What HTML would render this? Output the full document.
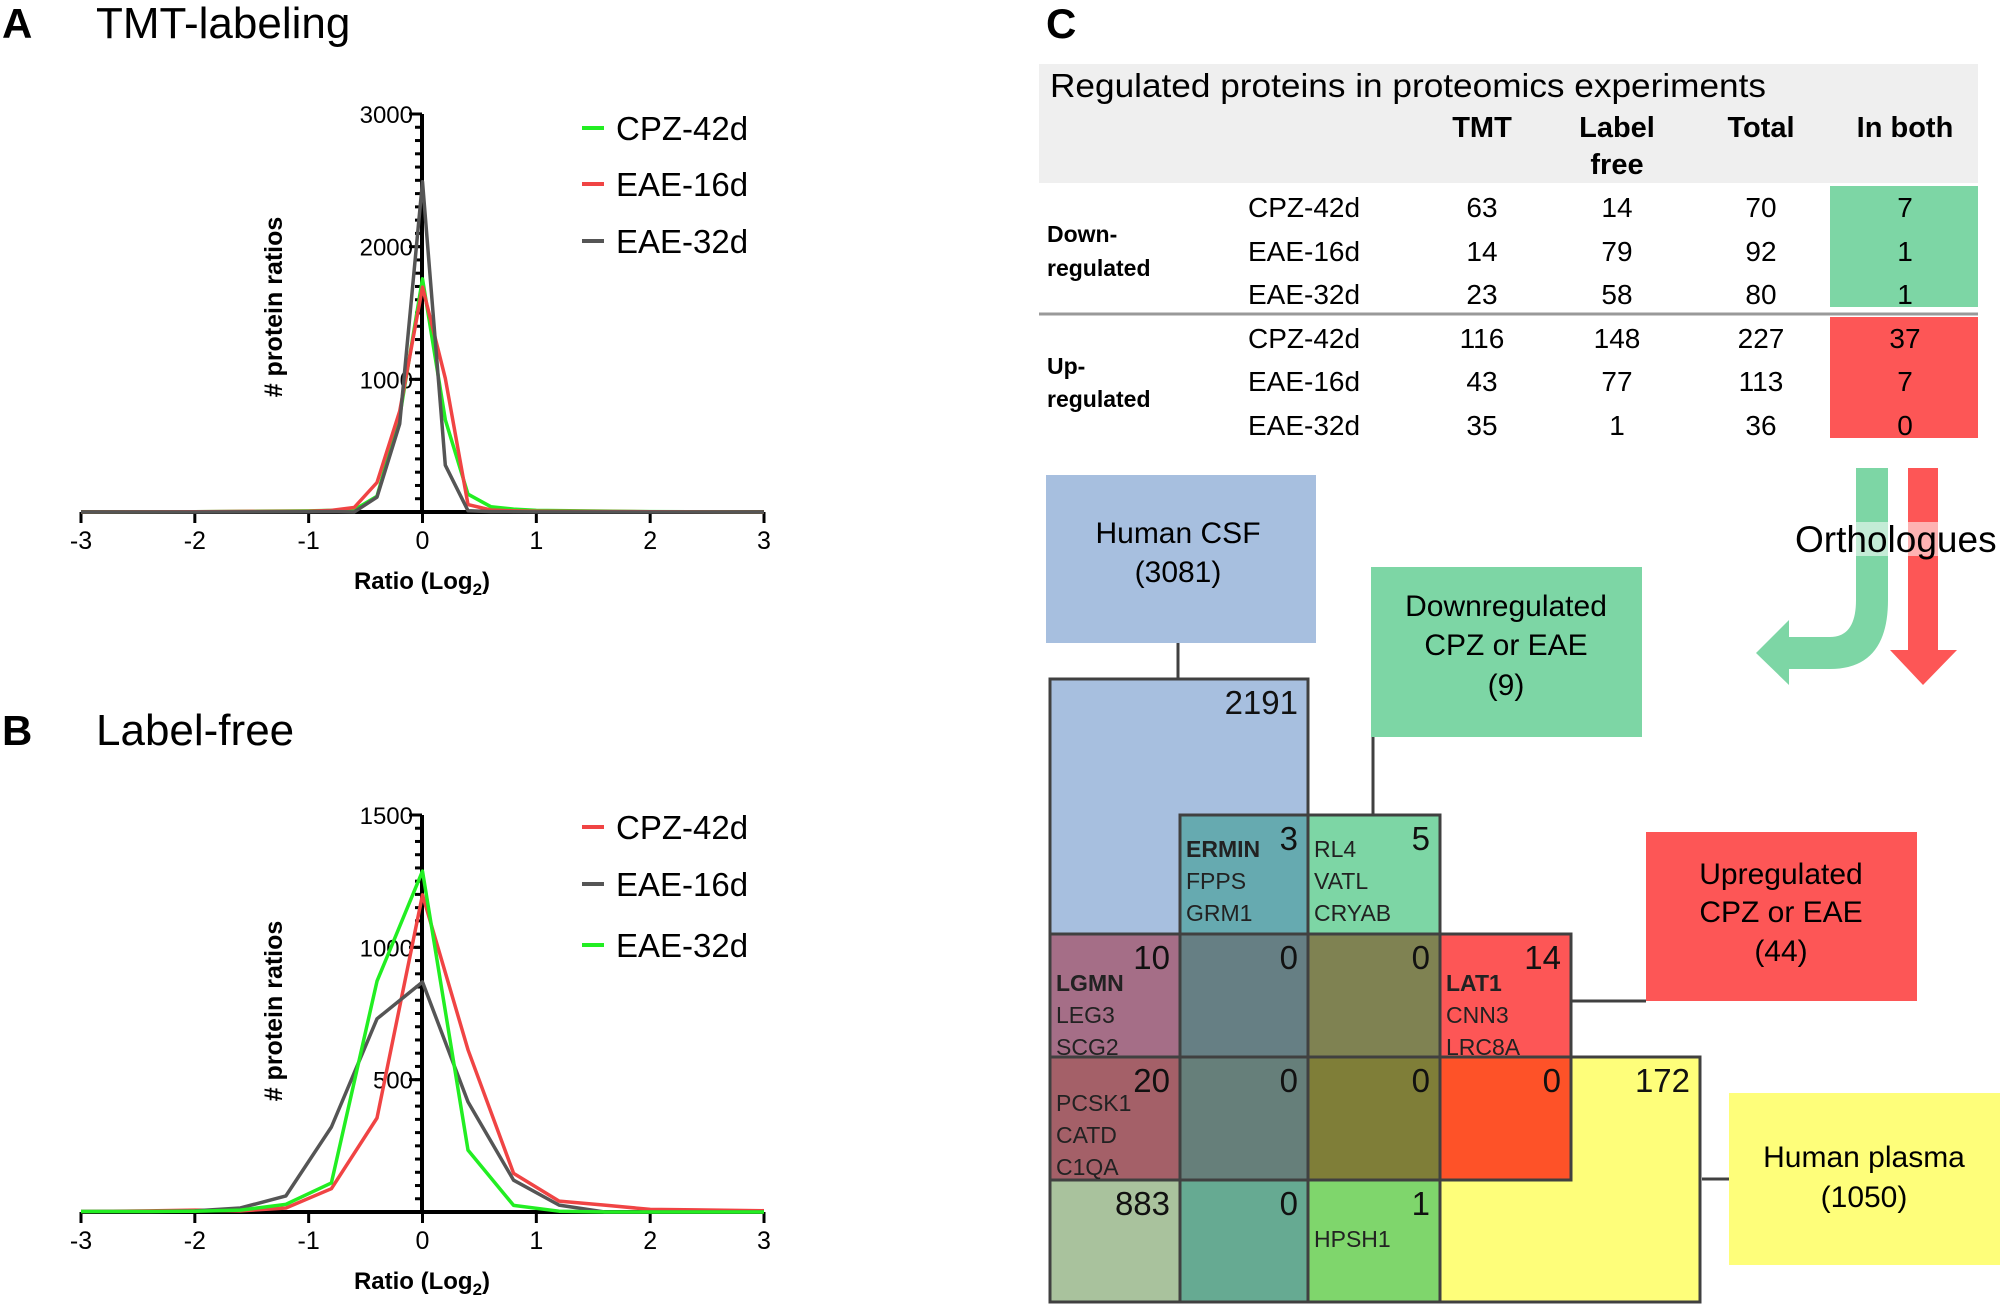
<!DOCTYPE html>
<html><head><meta charset="utf-8"><style>
html,body{margin:0;padding:0;background:#fff;}
svg{display:block;font-family:"Liberation Sans",Arial,sans-serif;}
.gene{font-size:23px;fill:#222;}
.num{font-size:33px;fill:#111;}
</style></head><body>
<svg id="fig" width="2007" height="1307" viewBox="0 0 2007 1307" xmlns="http://www.w3.org/2000/svg">
<g>
<text x="2" y="38" font-size="42" font-weight="bold">A</text>
<text x="96" y="38" font-size="44">TMT-labeling</text>
<g id="chartA"></g>
</g>
<g>
<text x="2" y="745" font-size="42" font-weight="bold">B</text>
<text x="96" y="745" font-size="44">Label-free</text>
<g id="chartB"></g>
</g>
<g>
<text x="1046" y="38" font-size="42" font-weight="bold">C</text>
<g>
<rect x="1039" y="64" width="939" height="119" fill="#efefef"/>
<text x="1050" y="97" font-size="33" textLength="716" lengthAdjust="spacingAndGlyphs">Regulated proteins in proteomics experiments</text>
<g font-size="29" font-weight="bold" text-anchor="middle">
<text x="1482" y="137">TMT</text>
<text x="1617" y="137">Label</text>
<text x="1617" y="174">free</text>
<text x="1761" y="137">Total</text>
<text x="1905" y="137">In both</text>
</g>
<rect x="1830" y="186" width="148" height="121" fill="#7dd6a5"/>
<rect x="1830" y="317" width="148" height="121" fill="#fd5656"/>
<line x1="1039" y1="314" x2="1978" y2="314" stroke="#999" stroke-width="3"/>
<g font-size="23" font-weight="bold">
<text x="1047" y="242">Down-</text>
<text x="1047" y="276">regulated</text>
<text x="1047" y="374">Up-</text>
<text x="1047" y="407">regulated</text>
</g>
<g id="tableRows" font-size="28"></g>
</g>
<g>
<rect x="1046" y="475" width="270" height="168" fill="#a7bfdf"/>
<text x="1178" y="543" font-size="30" text-anchor="middle">Human CSF</text>
<text x="1178" y="582" font-size="30" text-anchor="middle">(3081)</text>
<line x1="1178" y1="643" x2="1178" y2="679" stroke="#404040" stroke-width="3"/>
<rect x="1371" y="567" width="271" height="170" fill="#7dd6a5"/>
<text x="1506" y="616" font-size="30" text-anchor="middle">Downregulated</text>
<text x="1506" y="655" font-size="30" text-anchor="middle">CPZ or EAE</text>
<text x="1506" y="695" font-size="30" text-anchor="middle">(9)</text>
<line x1="1373" y1="737" x2="1373" y2="815" stroke="#404040" stroke-width="3"/>
<rect x="1646" y="832" width="271" height="169" fill="#fd5656"/>
<text x="1781" y="884" font-size="30" text-anchor="middle">Upregulated</text>
<text x="1781" y="922" font-size="30" text-anchor="middle">CPZ or EAE</text>
<text x="1781" y="961" font-size="30" text-anchor="middle">(44)</text>
<line x1="1571" y1="1001" x2="1646" y2="1001" stroke="#404040" stroke-width="3"/>
<rect x="1729" y="1093" width="271" height="172" fill="#fefe7a"/>
<text x="1864" y="1167" font-size="30" text-anchor="middle">Human plasma</text>
<text x="1864" y="1207" font-size="30" text-anchor="middle">(1050)</text>
<line x1="1702" y1="1179" x2="1729" y2="1179" stroke="#404040" stroke-width="3"/>
<g id="cells"></g>
<g fill="none" stroke="#404040" stroke-width="3">
<rect x="1050" y="679" width="258" height="623"/>
<rect x="1180" y="815" width="260" height="487"/>
<rect x="1050" y="934" width="521" height="246"/>
<rect x="1050" y="1057" width="650" height="245"/>
</g>
<g id="cellText"></g>
</g>
<g>
<path d="M1856 468 H1888 V600 Q1888 669 1830 669 H1789 V685 L1756 653 L1789 620 V637 H1830 Q1856 637 1856 600 Z" fill="#7dd6a5"/>
<path d="M1908 468 H1938 V650 H1957 L1923 685 L1890 650 H1908 Z" fill="#fd5656"/>
<rect x="1855" y="522" width="84" height="34" fill="#fff" opacity="0.55"/>
<text x="1795" y="552" font-size="37">Orthologues</text>
</g>
</g>
</svg>
<script>
var NS="http://www.w3.org/2000/svg";
function mk(tag,attrs,parent,txt){var e=document.createElementNS(NS,tag);for(var k in attrs)e.setAttribute(k,attrs[k]);if(txt!==undefined)e.textContent=txt;parent.appendChild(e);return e;}

var tmtX=[-3,-2,-1,-0.8,-0.6,-0.4,-0.2,0,0.2,0.4,0.6,0.8,1,2,3];
var tmtCPZ42=[0,2,8,12,16,119,720,1758,696,134,40,22,12,3,0];
var tmtEAE16=[0,2,6,12,34,222,760,1695,1008,56,15,8,5,2,0];
var tmtEAE32=[0,0,2,4,0,112,665,2490,353,10,3,2,1,0,0];
var tmtYTicks=[0,1000,2000,3000];
var tmtYLabels=["","1000","2000","3000"];
var xTicks=[-3,-2,-1,0,1,2,3];
var lfX=[-3,-2.4,-2,-1.6,-1.2,-0.8,-0.4,0,0.4,0.8,1.2,1.6,2,2.4,3];
var lfCPZ42=[2,4,7,4,15,88,355,1198,613,146,41,26,10,8,5];
var lfEAE16=[2,2,4,15,61,321,730,869,416,120,26,0,0,0,0];
var lfEAE32=[2,2,3,7,29,110,872,1288,234,25,3,0,0,0,0];
var lfYTicks=[0,500,1000,1500];
var lfYLabels=["","500","1000","1500"];

function drawChart(g,cfg){
  var x0=81,x1=764,xc=422;
  function sx(v){return x0+(v-(-3))/6*(x1-x0);}
  function sy(v){return cfg.base-(v/cfg.ymax)*(cfg.base-cfg.top);}
  for(var v=0;v<=cfg.ymax+0.01;v+=cfg.minor){
    var t=mk('line',{x1:xc-7,y1:sy(v),x2:xc,y2:sy(v),stroke:'#000','stroke-width':3},g);
    
    
  }
  cfg.yTicks.forEach(function(v,i){
    var t=mk('line',{x1:xc-13,y1:sy(v),x2:xc,y2:sy(v),stroke:'#000','stroke-width':3},g);
    
    
    if(cfg.yLabels[i]){
      var l=mk('text',{x:xc-9,y:sy(v)+9,'font-size':24,'text-anchor':'end'},g,cfg.yLabels[i]);
      
      
    }
  });
  var ya=mk('line',{x1:xc,y1:cfg.top,x2:xc,y2:cfg.base,stroke:'#000','stroke-width':4},g);
  
  
  var xa=mk('line',{x1:x0,y1:cfg.base,x2:x1,y2:cfg.base,stroke:'#000','stroke-width':4},g);
  
  
  xTicks.forEach(function(v){
    var t=mk('line',{x1:sx(v),y1:cfg.base,x2:sx(v),y2:cfg.base+11,stroke:'#000','stroke-width':3},g);
    
    
    var l=mk('text',{x:sx(v),y:cfg.base+37,'font-size':25,'text-anchor':'middle'},g,String(v));
    
    
  });
  var xt=mk('text',{x:xc,y:cfg.base+77,'font-size':24,'font-weight':'bold','text-anchor':'middle'},g);
  
  
  xt.innerHTML='Ratio (Log<tspan font-size="17" dy="6">2</tspan><tspan dy="-6">)</tspan>';
  var yt=mk('text',{x:0,y:0,'font-size':25,'font-weight':'bold','text-anchor':'middle',transform:'translate('+(cfg.ytx)+','+cfg.yty+') rotate(-90)'},g,'# protein ratios');
  
  
  cfg.series.forEach(function(s,i){
    var d=cfg.xs.map(function(xv,j){return (j?'L':'M')+sx(xv).toFixed(1)+' '+sy(s.vals[j]).toFixed(1);}).join(' ');
    var p=mk('path',{d:d,fill:'none',stroke:s.color,'stroke-width':3.5,'stroke-linejoin':'round'},g);
    
    
    var ly=cfg.legY[i];
    var ll=mk('line',{x1:582,y1:ly,x2:604,y2:ly,stroke:s.color,'stroke-width':4},g);
    
    
    var lt=mk('text',{x:616,y:ly+12,'font-size':33},g,s.name);
    
    
  });
}
drawChart(document.getElementById('chartA'),{top:114,base:512,ymax:3000,minor:100,yTicks:tmtYTicks,yLabels:tmtYLabels,ytx:282,yty:307,xs:tmtX,legY:[128,184,241],
  series:[{name:'CPZ-42d',color:'#22ee22',vals:tmtCPZ42},{name:'EAE-16d',color:'#f04444',vals:tmtEAE16},{name:'EAE-32d',color:'#555',vals:tmtEAE32}]});
drawChart(document.getElementById('chartB'),{top:815,base:1212,ymax:1500,minor:50,yTicks:lfYTicks,yLabels:lfYLabels,ytx:282,yty:1011,xs:lfX,legY:[827,884,945],
  series:[{name:'CPZ-42d',color:'#f04444',vals:lfCPZ42},{name:'EAE-16d',color:'#555',vals:lfEAE16},{name:'EAE-32d',color:'#22ee22',vals:lfEAE32}]});

var rowNames=["CPZ-42d","EAE-16d","EAE-32d","CPZ-42d","EAE-16d","EAE-32d"];
var tmtCounts=[63,14,23,116,43,35];
var lfCounts=[14,79,58,148,77,1];
var totalCounts=[70,92,80,227,113,36];
var bothCounts=[7,1,1,37,7,0];
var rowY=[217,261,304,348,391,435];
var tr=document.getElementById('tableRows');
rowNames.forEach(function(n,i){
  var y=rowY[i];
  var a=mk('text',{x:1248,y:y},tr,n);
  var b=mk('text',{x:1482,y:y,'text-anchor':'middle'},tr,String(tmtCounts[i]));
  var c=mk('text',{x:1617,y:y,'text-anchor':'middle'},tr,String(lfCounts[i]));
  var d=mk('text',{x:1761,y:y,'text-anchor':'middle'},tr,String(totalCounts[i]));
  var e=mk('text',{x:1905,y:y,'text-anchor':'middle'},tr,String(bothCounts[i]));
});

var colX=[1050,1180,1308,1440,1571,1700];
var rowYs=[679,815,934,1057,1180,1302];
var cellDefs=[[0,0,2,1,'#a7bfdf'],[0,1,1,1,'#a7bfdf'],[1,1,1,1,'#66aab0'],[2,1,1,1,'#7dd6a5'],
 [0,2,1,1,'#a56e87'],[1,2,1,1,'#667f84'],[2,2,1,1,'#7f8252'],[3,2,1,1,'#fd5656'],
 [0,3,1,1,'#a46068'],[1,3,1,1,'#667f7a'],[2,3,1,1,'#7f7e38'],[3,3,1,1,'#fe5228'],[4,3,1,2,'#fefe7a'],
 [0,4,1,1,'#a9c29d'],[1,4,1,1,'#66aa92'],[2,4,1,1,'#7fd66c'],[3,4,1,1,'#fefe7a']];
var cg=document.getElementById('cells');
cellDefs.forEach(function(c){
  var r=mk('rect',{x:colX[c[0]],y:rowYs[c[1]],width:colX[c[0]+c[2]]-colX[c[0]],height:rowYs[c[1]+c[3]]-rowYs[c[1]],fill:c[4]},cg);
  
  
});
var cellCounts=[['2191',1,0],['3',1,1],['5',2,1],['10',0,2],['0',1,2],['0',2,2],['14',3,2],['20',0,3],['0',1,3],['0',2,3],['0',3,3],['172',4,3],['883',0,4],['0',1,4],['1',2,4]];
var ct=document.getElementById('cellText');
cellCounts.forEach(function(c){
  var t=mk('text',{x:colX[c[1]+1]-10,y:rowYs[c[2]]+35,'text-anchor':'end','class':'num'},ct,c[0]);
  
  
});
var genes=[['ERMIN',1,1,0,1],['FPPS',1,1,1,0],['GRM1',1,1,2,0],['RL4',2,1,0,0],['VATL',2,1,1,0],['CRYAB',2,1,2,0],
 ['LGMN',0,2,0,1],['LEG3',0,2,1,0],['SCG2',0,2,2,0],['LAT1',3,2,0,1],['CNN3',3,2,1,0],['LRC8A',3,2,2,0],
 ['PCSK1',0,3,0,0],['CATD',0,3,1,0],['C1QA',0,3,2,0],['HPSH1',2,4,0,0]];
genes.forEach(function(gn){
  var base=(gn[2]===1)?rowYs[1]+42:(gn[2]===4?rowYs[4]+67:(gn[2]===3?rowYs[3]+54:rowYs[2]+57));
  var t=mk('text',{x:colX[gn[1]]+6,y:base+gn[3]*32,'class':'gene','font-weight':gn[4]?'bold':'normal'},ct,gn[0]);
  
  
});
</script>
</body></html>
